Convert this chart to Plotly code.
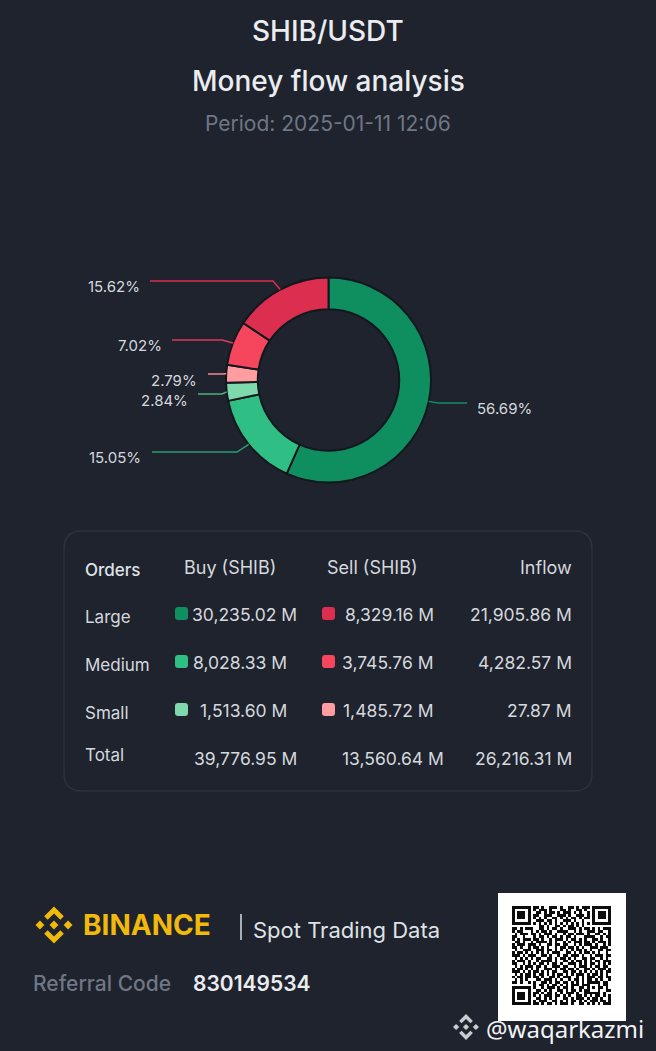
import numpy as np
import plotly.graph_objects as go

W, H = 656, 1051
BG = "#1e232d"
FONT = "Inter"

# money flow values, millions of SHIB
order_sizes = ["Large", "Medium", "Small"]
buy_values = [30235.02, 8028.33, 1513.60]
sell_values = [8329.16, 3745.76, 1485.72]
inflow_values = [21905.86, 4282.57, 27.87]
total_values = [39776.95, 13560.64, 26216.31]

buy_colors = ["#0f8f5f", "#2fbf84", "#7ed9ad"]
sell_colors = ["#dc2f50", "#f6465d", "#ff9da0"]

# order of the slices, clockwise from 12 o'clock
slice_values = buy_values + sell_values[::-1]
slice_colors = buy_colors + sell_colors[::-1]
slice_labels = ["56.69%", "15.05%", "2.84%", "2.79%", "7.02%", "15.62%"]
line_colors = ["#0f8f5f", "#2b9d70", "#4fae85", "#f08a90", "#dc3a58", "#dc2f50"]

# leader lines: elbow x, elbow y, end x, label x, label y, label anchor
leader_elbow_x = [438, 237, 222, 222, 222, 273]
leader_end_x = [467, 152, 198, 208, 172, 150]
leader_y = [403, 452, 394, 374, 340, 281]
label_x = [475, 143, 190, 199, 164, 142]
label_y = [408, 457, 400, 380, 345, 286]

QR_TOP = [
    "##.#..###.#..##.#.###",
    "#.###.#...##.#..##.#.",
    ".##.#.##.#.###.#.#..#",
    "##..###..###.#..###.#",
    "#.#.#..##.#.#.##.#.##",
    ".###.##.#..###.#..#..",
    "#.#.#.#.#.#.#.#.#.#.#",
    "..##.#..##.#.##.#.#..",
]
QR_MIDDLE = [
    "##.#.###..##.#.##.#..###.#.##.#.#.###",
    "#.##...#.#.##.#..####..#.#..###.##..#",
    ".#.###.##.#.###.#..#.##.###.#..##.#.#",
    "##..#...#.##.#.##.#.##.#...####..#.##",
    "#.#.###.##.#..#.###.#.##.#.#..##.#..#",
    ".##.#..#.####.#.#..#.#.###.##.#.###.#",
    "#.###.###.#..##.##.##..#.#.###.#..#.#",
    "##.#..#.##.#.#..#.##.##.#.#..###.###.",
    ".#..###..###.##.#.#.#.#.##.#.#..##.##",
    "#.##.#.#.#.#.#.###..##.#.#.##.#.#..#.",
    "###.#.###..##.#..#.##.###.#..#.###.##",
    ".#.#.#.#.##..##.#.##.#.#..##.##..#.#.",
    "#.###.#..#.####.#..##.#.##.#.#.##.###",
    "##..#.#.#.##.#.##.#..###.#.#.##.#.#.#",
    ".#.#.###.##.#..###.##..#.###.#.##.##.",
    "#.##.#.#.#..###.#.##.##.#..##.#.###.#",
    "###.#.#.##.#.#.##..##.##.#.#.#.#.#.##",
    ".#.#.##.#.##.#.#.##.#.#.###.#.##.#.#.",
    "#.##.##.##.#..##.#.###..#.#.###.##.##",
    ".#.#.#...##.###.#.#..#.##.#.##.#.#..#",
    "##.#..#.#..##.#.##.##.#.#.#.#####.##.",
]
QR_BOTTOM = [
    "#.##.#.##.#.#.###.###...#.##.",
    "#..#.###.#.##.#..##.#.#.##.#.",
    ".##.#.#..##.#.##.#.##...#..##",
    "##.#.##.#.#.###.#..######.#.",
    "#.#.###.##.#.#..##.#.#.##.#.#",
    ".##.#.#.#..##.#.###.#.##.#..#",
    "#.###..##.#.#.##.#.#.###.##.#",
    "##.#.##.#.###.#..##.#.#.#.###",
]
FINDER = ["#######", "#.....#", "#.###.#", "#.###.#", "#.###.#", "#.....#", "#######", "......."]


def qr_matrix():
    rows = []
    for i in range(8):
        rows.append(FINDER[i] + "." + QR_TOP[i] + "." + FINDER[i])
    rows += QR_MIDDLE
    for i in range(8):
        rows.append(FINDER[7 - i] + "." + QR_BOTTOM[i])
    return [[1 if c == "#" else 0 for c in r.ljust(37, ".")[:37]] for r in rows]


def px(x):
    return x / W


def py(y):
    return 1 - y / H


def text(s, x, y, size, color="#d5d8dd", anchor="left", weight=400, family=FONT):
    return dict(
        text=s, x=px(x), y=py(y), xref="paper", yref="paper", showarrow=False,
        xanchor=anchor, yanchor="middle",
        font=dict(family=family, size=size, color=color, weight=weight),
    )


def poly(points, color):
    p = "M " + " L ".join(f"{px(a):.5f},{py(b):.5f}" for a, b in points) + " Z"
    return dict(type="path", path=p, xref="paper", yref="paper",
                fillcolor=color, line=dict(width=0), layer="above")


def polyline(points, color, width=1.5):
    p = "M " + " L ".join(f"{px(a):.5f},{py(b):.5f}" for a, b in points)
    return dict(type="path", path=p, xref="paper", yref="paper",
                line=dict(color=color, width=width), layer="above")


def round_rect(x0, y0, x1, y1, r, fill=None, line=None):
    p = (f"M {px(x0 + r)},{py(y0)} L {px(x1 - r)},{py(y0)} Q {px(x1)},{py(y0)} {px(x1)},{py(y0 + r)} "
         f"L {px(x1)},{py(y1 - r)} Q {px(x1)},{py(y1)} {px(x1 - r)},{py(y1)} "
         f"L {px(x0 + r)},{py(y1)} Q {px(x0)},{py(y1)} {px(x0)},{py(y1 - r)} "
         f"L {px(x0)},{py(y0 + r)} Q {px(x0)},{py(y0)} {px(x0 + r)},{py(y0)} Z")
    return dict(type="path", path=p, xref="paper", yref="paper",
                fillcolor=fill if fill else "rgba(0,0,0,0)",
                line=dict(color=line if line else "rgba(0,0,0,0)", width=1.5 if line else 0),
                layer="below")


def logo(cx, cy, r, color):
    # Binance mark: centre + side diamonds and the two chevrons
    shapes = []
    d = 0.24 * r
    for ox in (-0.76 * r, 0, 0.76 * r):
        shapes.append(poly([(cx + ox, cy - d), (cx + ox + d, cy), (cx + ox, cy + d), (cx + ox - d, cy)], color))
    for s in (-1, 1):
        pts = [(0, 1), (0.53, 0.47), (0.34, 0.28), (0, 0.62), (-0.34, 0.28), (-0.53, 0.47)]
        shapes.append(poly([(cx + a * r, cy + s * b * r) for a, b in pts], color))
    return shapes


# donut position in the page
CX, CY, R = 328.5, 380, 102.5

fig = go.Figure()
fig.add_trace(go.Pie(
    values=slice_values,
    hole=0.69,
    sort=False,
    direction="clockwise",
    rotation=0,
    textinfo="none",
    hoverinfo="skip",
    showlegend=False,
    marker=dict(colors=slice_colors, line=dict(color="#13171e", width=2)),
    domain=dict(x=[px(CX - R), px(CX + R)], y=[py(CY + R), py(CY - R)]),
))

QR_X0, QR_X1, QR_Y0, QR_Y1 = 512, 611, 906, 1005
fig.add_trace(go.Heatmap(
    z=qr_matrix(),
    zmin=0, zmax=1,
    colorscale=[[0, "#ffffff"], [1, "#0c0c0c"]],
    showscale=False,
    hoverinfo="skip",
    xaxis="x", yaxis="y",
))

shapes = []
annotations = []

# leader lines start at the middle of each slice
shares = np.array(slice_values) / sum(slice_values)
mids = (np.cumsum(shares) - shares / 2) * 2 * np.pi
for i, a in enumerate(mids):
    sx, sy = CX + R * np.sin(a), CY - R * np.cos(a)
    shapes.append(polyline([(sx, sy), (leader_elbow_x[i], leader_y[i]), (leader_end_x[i], leader_y[i])], line_colors[i]))
    anchor = "left" if i == 0 else "right"
    annotations.append(text(slice_labels[i], label_x[i], label_y[i], 15, anchor=anchor))

# header
annotations.append(text("SHIB/USDT", 328, 31, 28, "#eaecef", "center", 500))
annotations.append(text("Money flow analysis", 328, 81, 28, "#eaecef", "center", 500))
annotations.append(text("Period: 2025-01-11 12:06", 328, 123, 21, "#6f7785", "center"))

# table
shapes.append(round_rect(64, 531, 592, 791, 18, line="#2d333d"))
annotations.append(text("Orders", 83, 570, 17, "#dfe2e6", weight=500))
annotations.append(text("Buy (SHIB)", 182, 567, 18, "#d5d8dd"))
annotations.append(text("Sell (SHIB)", 325, 567, 18, "#d5d8dd"))
annotations.append(text("Inflow", 574, 567, 18, "#d5d8dd", "right"))

row_y = [614, 662, 710]
label_row_y = [617, 665, 713]
for i, name in enumerate(order_sizes):
    annotations.append(text(name, 83, label_row_y[i], 17))
    shapes.append(round_rect(175, row_y[i] - 7, 188, row_y[i] + 6, 3, fill=buy_colors[i]))
    shapes.append(round_rect(322, row_y[i] - 7, 335, row_y[i] + 6, 3, fill=sell_colors[i]))
    annotations.append(text(f"{buy_values[i]:,.2f} M", 299 if i == 0 else 289, row_y[i], 17.5, anchor="right"))
    annotations.append(text(f"{sell_values[i]:,.2f} M", 436, row_y[i], 17.5, anchor="right"))
    annotations.append(text(f"{inflow_values[i]:,.2f} M", 574, row_y[i], 17.5, anchor="right"))
annotations.append(text("Total", 83, 755, 17))
annotations.append(text(f"{total_values[0]:,.2f} M", 299, 758, 17.5, anchor="right"))
annotations.append(text(f"{total_values[1]:,.2f} M", 446, 758, 17.5, anchor="right"))
annotations.append(text(f"{total_values[2]:,.2f} M", 574, 758, 17.5, anchor="right"))

# footer
shapes += logo(54, 925, 18.5, "#f0b90b")
annotations.append(text("BINANCE", 81, 925, 28, "#f0b90b", weight=700))
shapes.append(polyline([(241, 914), (241, 940)], "#d8dce2", 1.5))
annotations.append(text("Spot Trading Data", 251, 930, 22, "#dfe2e6"))
annotations.append(text("Referral Code", 31, 983, 21, "#6f7785", weight=500))
annotations.append(text("830149534", 191, 983, 21, "#eaecef", weight=600))

# QR backing card and watermark
shapes.append(dict(type="rect", xref="paper", yref="paper", x0=px(498), x1=px(626), y0=py(1021), y1=py(893),
                   fillcolor="#ffffff", line=dict(width=0), layer="below"))
shapes += logo(466, 1027, 13, "#c9ccd1")
annotations.append(text("@waqarkazmi", 484, 1028, 24, "#f2f3f5", family="Noto Sans"))

fig.update_layout(
    width=W, height=H,
    margin=dict(l=0, r=0, t=0, b=0),
    paper_bgcolor=BG,
    plot_bgcolor="rgba(0,0,0,0)",
    shapes=shapes,
    annotations=annotations,
    xaxis=dict(visible=False, domain=[px(QR_X0), px(QR_X1)]),
    yaxis=dict(visible=False, domain=[py(QR_Y1), py(QR_Y0)], autorange="reversed"),
)

fig.write_html("out.html", config=dict(displayModeBar=False),
               post_script="document.body.style.margin='0';document.body.style.overflow='hidden';document.body.style.background='#1e232d';")
